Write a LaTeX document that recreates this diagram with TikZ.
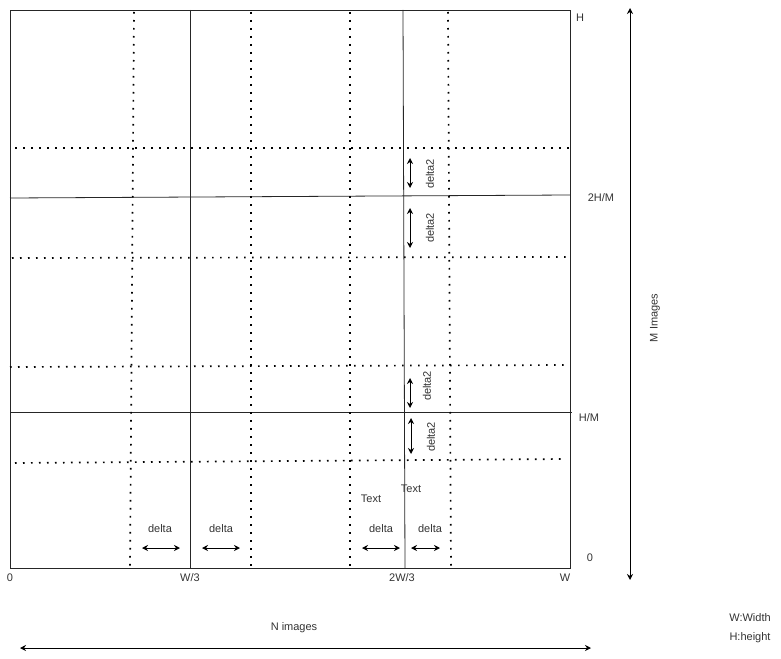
\documentclass[tikz,border=0pt]{standalone}
\usepackage{fontspec}
\setmainfont{Liberation Sans}
\usetikzlibrary{arrows.meta}

\begin{document}
\begin{tikzpicture}[x=1pt,y=-1pt,
    every node/.style={font=\fontsize{11}{13}\selectfont, text=black!80,
        inner sep=1pt},
    solid line/.style={line width=0.8pt, black!85},
    dot line/.style={line width=1.7pt, dash pattern=on 1.7pt off 6.3pt},
    dim arrow/.style={line width=0.9pt,
        {Stealth[length=6pt,width=6pt]}-{Stealth[length=6pt,width=6pt]}},
    side label/.style={rotate=90}]
    \useasboundingbox (0,0) rectangle (781,658);

    % image area
    \draw[solid line] (10,10) rectangle (570,568);
    \draw[solid line] (190,10) -- (190,568);
    \draw[solid line] (403,10) -- (405,568);
    \draw[solid line] (10,198) -- (570,195);
    \draw[solid line] (10,412) -- (572,412);

    % overlap bands
    \draw[dot line] (134,12) -- (130,570);
    \draw[dot line] (251,12) -- (251,570);
    \draw[dot line] (350,12) -- (350,570);
    \draw[dot line] (448,12) -- (451,570);
    \draw[dot line] (15,148) -- (570,148);
    \draw[dot line] (12,258) -- (568,257);
    \draw[dot line] (10,367) -- (568,365);
    \draw[dot line] (15,463) -- (565,459);

    % delta
    \coordinate (d1a) at (142,548); \coordinate (d1b) at (180,548);
    \coordinate (d2a) at (202,548); \coordinate (d2b) at (240,548);
    \coordinate (d3a) at (362,548); \coordinate (d3b) at (400,548);
    \coordinate (d4a) at (411,548); \coordinate (d4b) at (440,548);
    \draw[dim arrow] (d1a) -- (d1b);
    \draw[dim arrow] (d2a) -- (d2b);
    \draw[dim arrow] (d3a) -- (d3b);
    \draw[dim arrow] (d4a) -- (d4b);
    \node (dl1) at (160,529) {delta};
    \node (dl2) at (221,529) {delta};
    \node (dl3) at (381,529) {delta};
    \node (dl4) at (430,529) {delta};
    \node (tx1) at (371,499) {Text};
    \node (tx2) at (411,489) {Text};

    % delta2
    \coordinate (e1a) at (410,158); \coordinate (e1b) at (410,188);
    \coordinate (e2a) at (410,208); \coordinate (e2b) at (410,248);
    \coordinate (e3a) at (410,378); \coordinate (e3b) at (410,408);
    \coordinate (e4a) at (411,418); \coordinate (e4b) at (411,454);
    \draw[dim arrow] (e1a) -- (e1b);
    \draw[dim arrow] (e2a) -- (e2b);
    \draw[dim arrow] (e3a) -- (e3b);
    \draw[dim arrow] (e4a) -- (e4b);
    \node[side label] (el1) at (430,174) {delta2};
    \node[side label] (el2) at (430,228) {delta2};
    \node[side label] (el3) at (427,386) {delta2};
    \node[side label] (el4) at (431,437) {delta2};

    % axis labels
    \node (yH)  at (580,18)  {H};
    \node (y2M) at (601,198) {2H/M};
    \node (y1M) at (589,418) {H/M};
    \node (y0)  at (590,558) {0};
    \node (x0)  at (10,578)  {0};
    \node (x1)  at (190,578) {W/3};
    \node (x2)  at (402,578) {2W/3};
    \node (xW)  at (565,578) {W};

    % image counts
    \coordinate (mTop) at (630,8);
    \coordinate (mBot) at (630,580);
    \draw[dim arrow] (mTop) -- (mBot);
    \node[side label] (mLab) at (655,318) {M Images};
    \coordinate (nL) at (20,648);
    \coordinate (nR) at (591,648);
    \draw[dim arrow] (nL) -- (nR);
    \node (nLab) at (294,628) {N images};
    \node (key1) at (750,618) {W:Width};
    \node (key2) at (750,638) {H:height};
\end{tikzpicture}
\end{document}
